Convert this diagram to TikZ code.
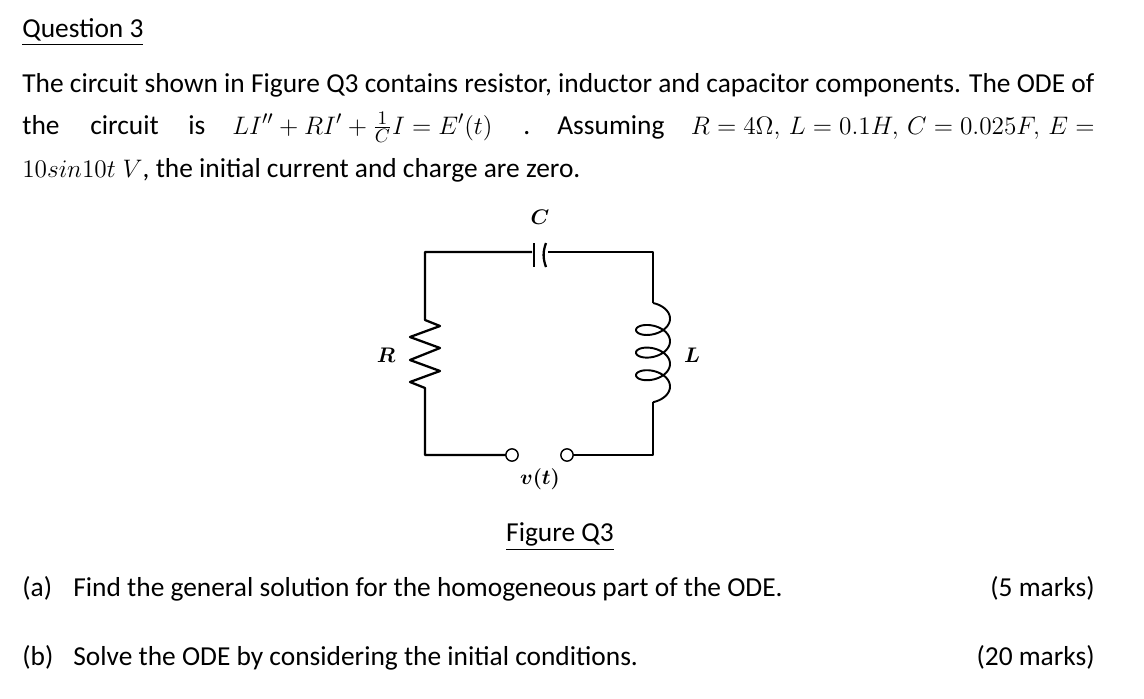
\documentclass[tikz,border=0pt]{standalone}
\usepackage{amsmath}
\usepackage{fontspec}
\setmainfont{Carlito}
\begin{document}
\begin{tikzpicture}[x=0.02cm,y=-0.02cm,
  txt/.style={anchor=base west,inner sep=0pt,font=\fontsize{15.6}{18}\selectfont},
  txtr/.style={anchor=base east,inner sep=0pt,font=\fontsize{15.6}{18}\selectfont},
  wire/.style={line width=1.3pt,line join=round},
  lab/.style={inner sep=0pt,font=\fontsize{13}{15}\selectfont},
  term/.style={circle,draw,line width=0.8pt,fill=white,minimum size=7pt,inner sep=0pt}]
\useasboundingbox (0,0) rectangle (1144,698);
\node[txt] (q) at (22,37) {\underline{Question 3}};
\node[txt] (l1) at (22,92) {The circuit shown in Figure Q3 contains resistor, inductor and capacitor components. The ODE of};
\node[txt] (w1) at (22,134) {the};
\node[txt] (w2) at (90,134) {circuit};
\node[txt] (w3) at (188,134) {is};
\node[txt] (eq1) at (232,134) {$LI''+RI'+\tfrac{1}{C}I=E'(t)$};
\node[txt] (dot) at (523,134) {.};
\node[txt] (w4) at (557,134) {Assuming};
\node[txtr] (eq2) at (1095,134) {$R=4\Omega,\, L=0.1H,\, C=0.025F,\, E=$};
\node[txt] (l3) at (22,177) {$10sin10t\;V$, the initial current and charge are zero.};
% circuit
\coordinate (tl) at (425,252); \coordinate (tr) at (653,252);
\coordinate (bl) at (425,455); \coordinate (br) at (653,455);
\draw[wire] (532,252) -- (tl) -- (425,320) -- (440,326) -- (410,337) -- (440,348) -- (410,360) -- (440,371) -- (410,382) -- (425,388) -- (bl) -- (512,455);
\draw[wire] (548,252) -- (tr) -- (653,303);
\draw[wire,line width=1.1pt] plot[domain=0:21.99,samples=250,smooth,variable=\t] ({653+17*sin(\t r)},{303+3.6*\t-10*cos(\t r)+10});
\draw[wire] (653,402) -- (br) -- (567,455);
\draw[wire] (534,243) -- (534,267);
\draw[wire] (546,243) to[bend right=20] (546,267);
\node[term] (t1) at (512,455) {};
\node[term] (t2) at (567,455) {};
\node[lab] (C) at (540,217) {$\boldsymbol{C}$};
\node[lab] (R) at (386,355) {$\boldsymbol{R}$};
\node[lab] (L) at (692,355) {$\boldsymbol{L}$};
\node[lab] (v) at (540,479) {$\boldsymbol{v(t)}$};
\node[txt,anchor=base] (fig) at (560,541) {\underline{Figure Q3}};
\node[txt] (a) at (22,596) {(a)};
\node[txt] (a2) at (73,596) {Find the general solution for the homogeneous part of the ODE.};
\node[txtr] (am) at (1095,596) {(5 marks)};
\node[txt] (b) at (22,665) {(b)};
\node[txt] (b2) at (73,665) {Solve the ODE by considering the initial conditions.};
\node[txtr] (bm) at (1095,665) {(20 marks)};
\end{tikzpicture}
\end{document}
